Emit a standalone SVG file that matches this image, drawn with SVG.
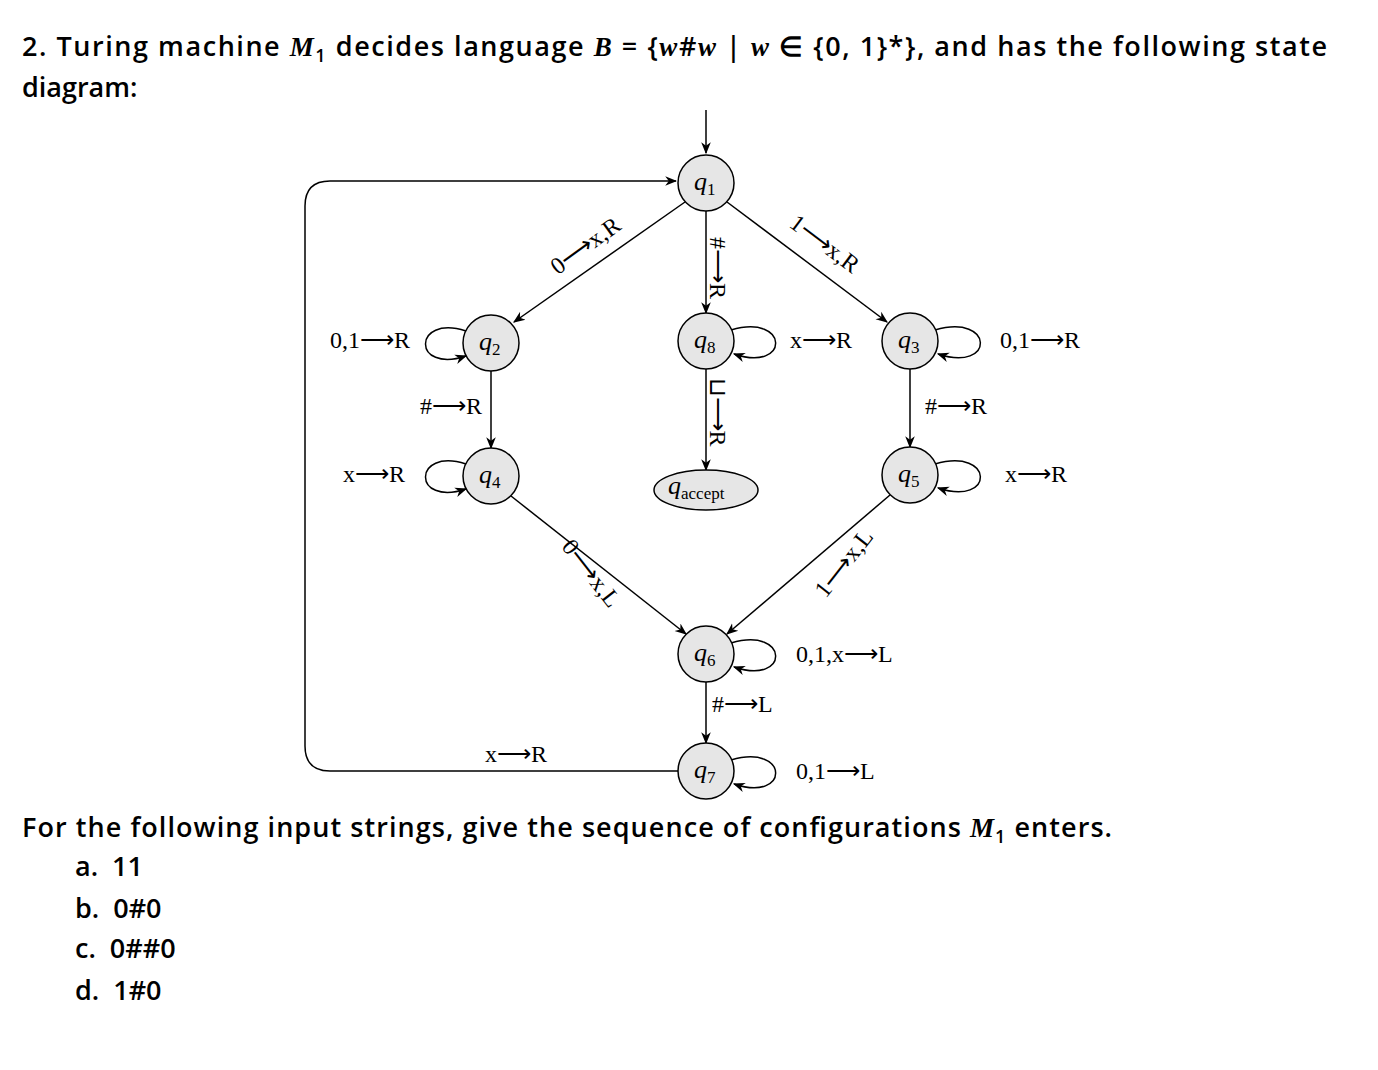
<svg xmlns="http://www.w3.org/2000/svg" width="1378" height="1070" viewBox="0 0 1378 1070">
<style>
.h{font-family:"Open Sans","Liberation Sans",sans-serif;font-size:27px;font-weight:600;fill:#000}
.l{font-family:"Liberation Serif",serif;font-size:24px;fill:#000}
.s{font-family:"Liberation Serif",serif;font-size:26px;font-style:italic;fill:#000}
.sub{font-size:17px;font-style:normal}
.n{fill:#e6e6e6;stroke:#000;stroke-width:1.5}
.e{fill:none;stroke:#000;stroke-width:1.5;marker-end:url(#a)}
</style>
<defs><marker id="a" viewBox="0 0 10 10" refX="9" refY="5" markerWidth="8" markerHeight="8" orient="auto"><path d="M0,1 L10,5 L0,9 L3,5 z" fill="#000"/></marker></defs>
<rect width="1378" height="1070" fill="#fff"/>
<text class="h" x="22" y="56" textLength="1305" lengthAdjust="spacing">2. Turing machine <tspan font-style="italic" font-family="Liberation Serif">M</tspan><tspan font-size="18" dy="6">1</tspan><tspan dy="-6"> decides language </tspan><tspan font-style="italic" font-family="Liberation Serif">B</tspan> = {<tspan font-style="italic" font-family="Liberation Serif">w</tspan>#<tspan font-style="italic" font-family="Liberation Serif">w</tspan> | <tspan font-style="italic" font-family="Liberation Serif">w</tspan> ∈ {0, 1}*}, and has the following state</text>
<text class="h" x="22" y="97">diagram:</text>
<text class="h" x="22" y="837" textLength="1090" lengthAdjust="spacing">For the following input strings, give the sequence of configurations <tspan font-style="italic" font-family="Liberation Serif">M</tspan><tspan font-size="18" dy="6">1</tspan><tspan dy="-6"> enters.</tspan></text>
<text class="h" x="75" y="876" xml:space="preserve">a.  11</text>
<text class="h" x="75" y="918" xml:space="preserve">b.  0#0</text>
<text class="h" x="75" y="958" xml:space="preserve">c.  0##0</text>
<text class="h" x="75" y="1000" xml:space="preserve">d.  1#0</text>
<g id="connectors">
<path class="e" d="M706,110 V153"/>
<path class="e" d="M678,771 H330 Q305,771 305,746 V206 Q305,181 330,181 H676"/>
<path class="e" d="M685,202 L514,322"/>
<path class="e" d="M727,202 L887,322"/>
<path class="e" d="M706,211 V313"/>
<path class="e" d="M491,371 V448"/>
<path class="e" d="M706,369 V470"/>
<path class="e" d="M910,369 V447"/>
<path class="e" d="M511,496 L686,634"/>
<path class="e" d="M890,495 L727,634"/>
<path class="e" d="M706,682 V743"/>
<path class="e" d="M466,331 C412,314 412,374 466,356"/>
<path class="e" d="M466,464 C412,447 412,507 466,489"/>
<path class="e" d="M731,330 C790,313 790,373 734,354"/>
<path class="e" d="M935,330 C995,313 995,373 938,354"/>
<path class="e" d="M935,464 C995,447 995,507 938,488"/>
<path class="e" d="M731,643 C790,626 790,686 734,667"/>
<path class="e" d="M731,760 C790,743 790,803 734,784"/>
<text class="l" transform="translate(590,252) rotate(-36)" text-anchor="middle">0⟶x,R</text>
<text class="l" transform="translate(820,250) rotate(37)" text-anchor="middle">1⟶x,R</text>
<text class="l" transform="translate(710,268) rotate(90)" text-anchor="middle">#⟶R</text>
<text class="l" transform="translate(710,412) rotate(90)" text-anchor="middle">⊔⟶R</text>
<text class="l" transform="translate(585,578) rotate(52)" text-anchor="middle">0⟶x,L</text>
<text class="l" transform="translate(850,568) rotate(-52)" text-anchor="middle">1⟶x,L</text>
<text class="l" x="330" y="348">0,1⟶R</text>
<text class="l" x="420" y="414">#⟶R</text>
<text class="l" x="343" y="482">x⟶R</text>
<text class="l" x="790" y="348">x⟶R</text>
<text class="l" x="1000" y="348">0,1⟶R</text>
<text class="l" x="925" y="414">#⟶R</text>
<text class="l" x="1005" y="482">x⟶R</text>
<text class="l" x="796" y="662">0,1,x⟶L</text>
<text class="l" x="712" y="712">#⟶L</text>
<text class="l" x="485" y="762">x⟶R</text>
<text class="l" x="796" y="779">0,1⟶L</text>
</g>
<g id="q1"><circle class="n" cx="706" cy="183" r="28"/><text class="s" x="694" y="190">q<tspan class="sub" dy="5">1</tspan></text></g>
<g id="q2"><circle class="n" cx="491" cy="343" r="28"/><text class="s" x="479" y="350">q<tspan class="sub" dy="5">2</tspan></text></g>
<g id="q8"><circle class="n" cx="706" cy="341" r="28"/><text class="s" x="694" y="348">q<tspan class="sub" dy="5">8</tspan></text></g>
<g id="q3"><circle class="n" cx="910" cy="341" r="28"/><text class="s" x="898" y="348">q<tspan class="sub" dy="5">3</tspan></text></g>
<g id="q4"><circle class="n" cx="491" cy="476" r="28"/><text class="s" x="479" y="483">q<tspan class="sub" dy="5">4</tspan></text></g>
<g id="qaccept"><ellipse class="n" cx="706" cy="490" rx="52" ry="20"/><text class="s" x="668" y="494">q<tspan class="sub" font-size="21" dy="5">accept</tspan></text></g>
<g id="q5"><circle class="n" cx="910" cy="475" r="28"/><text class="s" x="898" y="482">q<tspan class="sub" dy="5">5</tspan></text></g>
<g id="q6"><circle class="n" cx="706" cy="654" r="28"/><text class="s" x="694" y="661">q<tspan class="sub" dy="5">6</tspan></text></g>
<g id="q7"><circle class="n" cx="706" cy="771" r="28"/><text class="s" x="694" y="778">q<tspan class="sub" dy="5">7</tspan></text></g>
</svg>
